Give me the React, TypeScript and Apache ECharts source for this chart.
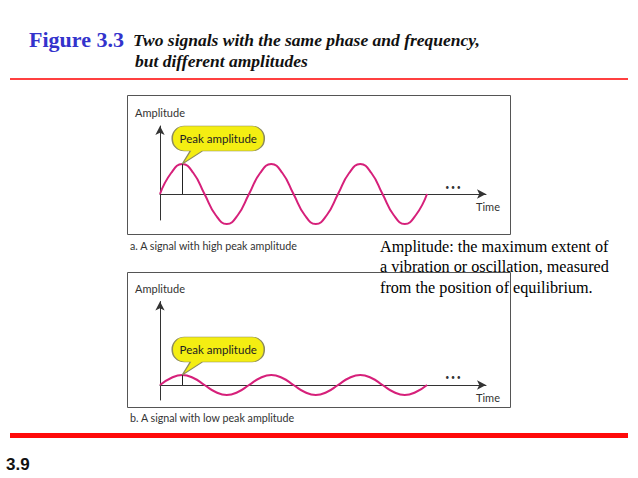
import { useEffect, useRef } from 'react';
import * as echarts from 'echarts';

// time in eighths of a period, signal values at each step
const timeSteps = [0, 0.5, 1, 1.5, 2, 2.5, 3, 3.5, 4, 4.5, 5, 5.5, 6, 6.5, 7, 7.5, 8, 8.5, 9, 9.5, 10, 10.5, 11, 11.5, 12];
const highSignal = [0, 2.1, 3, 2.1, 0, -2.1, -3, -2.1, 0, 2.1, 3, 2.1, 0, -2.1, -3, -2.1, 0, 2.1, 3, 2.1, 0, -2.1, -3, -2.1, 0];
const lowSignal = [0, 0.7, 1, 0.7, 0, -0.7, -1, -0.7, 0, 0.7, 1, 0.7, 0, -0.7, -1, -0.7, 0, 0.7, 1, 0.7, 0, -0.7, -1, -0.7, 0];
const highPeak = [1, 3];
const lowPeak = [1, 1];
const panelCaptions = ['a. A signal with high peak amplitude', 'b. A signal with low peak amplitude'];
const axisNames = ['Amplitude', 'Time'];
const calloutText = 'Peak amplitude';
const titleFigure = 'Figure 3.3';
const titleLines = ['Two signals with the same phase and frequency,', 'but different amplitudes'];
const definitionLines = [
  'Amplitude: the maximum extent of',
  'a vibration or oscillation, measured',
  'from the position of equilibrium.',
];
const slideNumber = '3.9';

const WAVE = '#d6207a';
const AXIS = '#333333';
const BUBBLE =
  'path://M12,0 L80,0 A12,12 0 0 1 92,12 L92,13 A12,12 0 0 1 80,25 L30,25 L10,38 L18,25 L12,25 A12,12 0 0 1 0,13 L0,12 A12,12 0 0 1 12,0 Z';

function signalSeries(idx: number, values: number[], peak: number[]) {
  return {
    type: 'line',
    xAxisIndex: idx,
    yAxisIndex: idx,
    data: timeSteps.map((t, i) => [t, values[i]]),
    smooth: 0.5,
    symbol: 'none',
    showSymbol: false,
    clip: false,
    silent: true,
    lineStyle: { color: WAVE, width: 2 },
    markLine: {
      silent: true,
      symbol: ['none', 'none'],
      label: { show: false },
      lineStyle: { color: '#222', width: 1, type: 'solid' },
      data: [[{ coord: [peak[0], 0] }, { coord: peak }]],
    },
    markPoint: {
      silent: true,
      symbol: BUBBLE,
      symbolSize: [92, 38],
      symbolOffset: [36, -19],
      itemStyle: { color: '#f4ee12', borderColor: '#8c8a5c', borderWidth: 1 },
      label: {
        show: true,
        position: 'inside',
        formatter: calloutText,
        color: '#222',
        fontFamily: 'Lato',
        fontSize: 11.5,
        offset: [0, -6.5],
      },
      data: [{ coord: peak }],
    },
  };
}

function xAxisCfg(idx: number) {
  return {
    type: 'value',
    gridIndex: idx,
    min: 0,
    max: 14.65,
    name: axisNames[1],
    nameLocation: 'end',
    nameGap: 2,
    nameTextStyle: { color: '#333', fontFamily: 'Lato', fontSize: 11, align: 'center', verticalAlign: 'top', padding: [7, 0, 0, 0] },
    axisLine: { show: true, onZero: true, symbol: ['none', 'arrow'], symbolSize: [7, 9], lineStyle: { color: AXIS, width: 1 } },
    axisTick: { show: false },
    axisLabel: { show: false },
    splitLine: { show: false },
  };
}

function yAxisCfg(idx: number, min: number, max: number, gap: number) {
  return {
    type: 'value',
    gridIndex: idx,
    min,
    max,
    name: axisNames[0],
    nameLocation: 'end',
    nameGap: gap,
    nameTextStyle: { color: '#333', fontFamily: 'Lato', fontSize: 11 },
    axisLine: { show: true, onZero: true, symbol: ['none', 'arrow'], symbolSize: [7, 9], lineStyle: { color: AXIS, width: 1 } },
    axisTick: { show: false },
    axisLabel: { show: false },
    splitLine: { show: false },
  };
}

function txt(text: string, x: number, y: number, font: string, fill: string, align = 'left') {
  return {
    type: 'text',
    x,
    y,
    silent: true,
    style: { text, font, fill, textAlign: align, textVerticalAlign: 'middle' },
  };
}

export default function App() {
  const ref = useRef<HTMLDivElement>(null);
  useEffect(() => {
    if (!ref.current) return;
    const chart = echarts.init(ref.current, undefined, { renderer: 'svg' });
    chart.setOption({
      animation: false,
      backgroundColor: '#ffffff',
      grid: [
        { left: 160, top: 126, width: 326, height: 94 },
        { left: 160, top: 301.5, width: 326, height: 98.5 },
      ],
      xAxis: [xAxisCfg(0), xAxisCfg(1)],
      yAxis: [yAxisCfg(0, -2.6, 6.8, 8.5), yAxisCfg(1, -1.5, 8.35, 8)],
      series: [signalSeries(0, highSignal, highPeak), signalSeries(1, lowSignal, lowPeak)],
      graphic: [
        { type: 'rect', silent: true, z: -1, shape: { x: 127.5, y: 95.5, width: 383, height: 139 }, style: { fill: 'none', stroke: '#555', lineWidth: 1 } },
        { type: 'rect', silent: true, z: -1, shape: { x: 127.5, y: 272.5, width: 383, height: 135 }, style: { fill: 'none', stroke: '#555', lineWidth: 1 } },
        txt(titleFigure, 29, 39, 'bold 22px "Liberation Serif"', '#3333cc'),
        txt(titleLines[0], 133, 40, 'italic bold 17.5px "Liberation Serif"', '#111'),
        txt(titleLines[1], 135, 61, 'italic bold 17.5px "Liberation Serif"', '#111'),
        { type: 'line', silent: true, shape: { x1: 10, y1: 79, x2: 628, y2: 79 }, style: { stroke: '#ff0000', lineWidth: 1.5 } },
        { type: 'rect', silent: true, shape: { x: 10, y: 433, width: 618, height: 5 }, style: { fill: '#ff0a0a' } },
        txt(slideNumber, 6, 464, 'bold 17px "Liberation Sans"', '#111'),
        txt(panelCaptions[0], 130, 245, '10.7px Lato', '#333'),
        txt(panelCaptions[1], 130, 417, '10.7px Lato', '#333'),
        txt('\u2022 \u2022 \u2022', 453, 187, '7px Lato', '#333', 'center'),
        txt('\u2022 \u2022 \u2022', 453, 377, '7px Lato', '#333', 'center'),
        txt(definitionLines[0], 380, 247, '16.2px "Liberation Serif"', '#000'),
        txt(definitionLines[1], 380, 267, '16.2px "Liberation Serif"', '#000'),
        txt(definitionLines[2], 380, 288, '16.2px "Liberation Serif"', '#000'),
      ],
    });
    return () => chart.dispose();
  }, []);
  return <div ref={ref} style={{ position: 'absolute', left: 0, top: 0, width: 638, height: 478 }} />;
}
